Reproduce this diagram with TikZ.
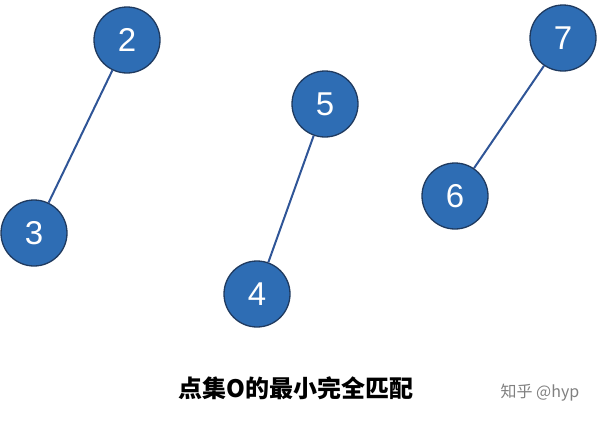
\documentclass[tikz,border=0pt]{standalone}
\usepackage{fontspec}
\setmainfont{Liberation Sans}
\newfontfamily\cjk{Noto Sans CJK SC}
\definecolor{nodefill}{HTML}{2E6DB4}
\definecolor{nodeedge}{HTML}{1F3A5F}
\definecolor{edgecol}{HTML}{2F5597}
\begin{document}
\begin{tikzpicture}[x=1pt,y=-1pt,
  vtx/.style={circle,draw=nodeedge,line width=1.3pt,fill=nodefill,minimum size=66pt,inner sep=0pt,text=white,font=\fontsize{33}{33}\selectfont},
  link/.style={draw=edgecol,line width=2pt}]
\path[use as bounding box] (0,0) rectangle (600,421);
\node[vtx] (n2) at (127,40) {2};
\node[vtx] (n3) at (34,233) {3};
\node[vtx] (n5) at (325,104) {5};
\node[vtx] (n4) at (257,294) {4};
\node[vtx] (n7) at (563,38) {7};
\node[vtx] (n6) at (455,196) {6};
\draw[link] (n2) -- (n3);
\draw[link] (n5) -- (n4);
\draw[link] (n7) -- (n6);
\node (cap) at (296,388) {\cjk\bfseries\fontsize{24}{24}\selectfont 点集O的最小完全匹配};
\node[text=gray] (wm) at (540,393) {\cjk\fontsize{16}{16}\selectfont 知乎 @hyp};
\end{tikzpicture}
\end{document}
